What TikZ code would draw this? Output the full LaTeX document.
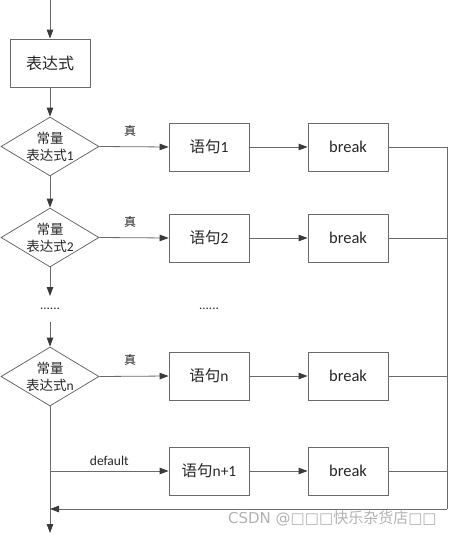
\documentclass[tikz,border=0pt]{standalone}
\usepackage{fontspec}
\setmainfont{Carlito}
\newfontfamily\cjk{Noto Sans CJK SC}
\newfontfamily\dvs{DejaVu Sans}
\usetikzlibrary{arrows.meta,shapes.geometric}
\definecolor{ln}{HTML}{6A6A6A}
\definecolor{tip}{HTML}{3A3A3A}
\definecolor{tx}{HTML}{262626}
\begin{document}
\begin{tikzpicture}[x=1pt,y=-1pt,
  every node/.style={text=tx},
  boxnode/.style={draw=ln,line width=0.8pt,rectangle,minimum width=80pt,minimum height=48pt,inner sep=0pt},
  decnode/.style={draw=ln,line width=0.8pt,diamond,minimum width=98pt,minimum height=59pt,inner sep=0pt},
  flow/.style={draw=ln,line width=0.8pt},
  arr/.style={flow,-{Triangle[length=9pt,width=6.5pt,color=tip]}},
  btext/.style={font=\fontsize{16.5}{18}\selectfont},
  stext/.style={font=\fontsize{15.5}{17}\selectfont},
  dtext/.style={font=\fontsize{13.5}{17}\selectfont,align=center,inner sep=0pt},
  lab/.style={font=\cjk\fontsize{12}{13}\selectfont,inner sep=0pt}]
\useasboundingbox (0,0) rectangle (450,538);

\coordinate (top) at (50,0);
\node[boxnode,font=\cjk\fontsize{16}{17}\selectfont] (expr) at (50,63) {表达式};

\node[decnode] (d1) at (50,146.5) {};
\node[dtext] (d1t) at (50,147) {{\cjk 常量}\\{\cjk 表达式}1};
\node[boxnode,stext] (s1) at (209,147) {{\cjk 语句}1};
\node[boxnode,btext] (b1) at (348,147) {break};

\node[decnode] (d2) at (50,237.5) {};
\node[dtext] (d2t) at (50,238) {{\cjk 常量}\\{\cjk 表达式}2};
\node[boxnode,stext] (s2) at (209,238) {{\cjk 语句}2};
\node[boxnode,btext] (b2) at (348,238) {break};

\node[inner sep=0pt,font=\fontsize{13}{14}\selectfont] (dots1) at (50,309) {......};
\node[inner sep=0pt,font=\fontsize{13}{14}\selectfont] (dots2) at (209,309) {......};
\coordinate (dA) at (50,296);
\coordinate (dB) at (50,322);

\node[decnode] (dn) at (50,376.5) {};
\node[dtext] (dnt) at (50,377) {{\cjk 常量}\\{\cjk 表达式}n};
\node[boxnode,stext] (sn) at (209,376) {{\cjk 语句}n};
\node[boxnode,btext] (bn) at (348,376) {break};

\coordinate (def) at (50,471);
\node[boxnode,stext] (sn1) at (209,471) {{\cjk 语句}n+1};
\node[boxnode,btext] (bn1) at (348,471) {break};

\coordinate (r1) at (447,147);
\coordinate (r2) at (447,238);
\coordinate (rn) at (447,376);
\coordinate (rn1) at (447,471);
\coordinate (rb) at (447,509);
\coordinate (ret) at (50,509);
\coordinate (bot) at (50,533);

% main column
\draw[arr] (top) -- (expr.north);
\draw[arr] (expr.south) -- (d1.north);
\draw[arr] (d1.south) -- (d2.north);
\draw[arr] (d2.south) -- (dA);
\draw[arr] (dB) -- (dn.north);
\draw[arr] (dn.south) -- (bot);

% branches
\draw[arr] (d1.east) -- node[lab,above=10pt,xshift=-4pt] (t1) {真} (s1.west);
\draw[arr] (s1.east) -- (b1.west);
\draw[arr] (d2.east) -- node[lab,above=10pt,xshift=-4pt] (t2) {真} (s2.west);
\draw[arr] (s2.east) -- (b2.west);
\draw[arr] (dn.east) -- node[lab,above=10pt,xshift=-4pt] (tn) {真} (sn.west);
\draw[arr] (sn.east) -- (bn.west);
\draw[arr] (def) -- node[above=5pt,inner sep=0pt,font=\fontsize{13.5}{15}\selectfont] (deflab) {default} (sn1.west);
\draw[arr] (sn1.east) -- (bn1.west);

% return
\draw[flow] (b1.east) -- (r1);
\draw[flow] (b2.east) -- (r2);
\draw[flow] (bn.east) -- (rn);
\draw[flow] (bn1.east) -- (rn1);
\draw[flow] (r1) -- (rb);
\draw[arr] (rb) -- (ret);

% watermark
\node[anchor=west,inner sep=0pt,text=black!30,font=\dvs\fontsize{15}{17}\selectfont] (wm) at (228,518) {CSDN @□□□{\cjk 快乐杂货店}□□};
\end{tikzpicture}
\end{document}
